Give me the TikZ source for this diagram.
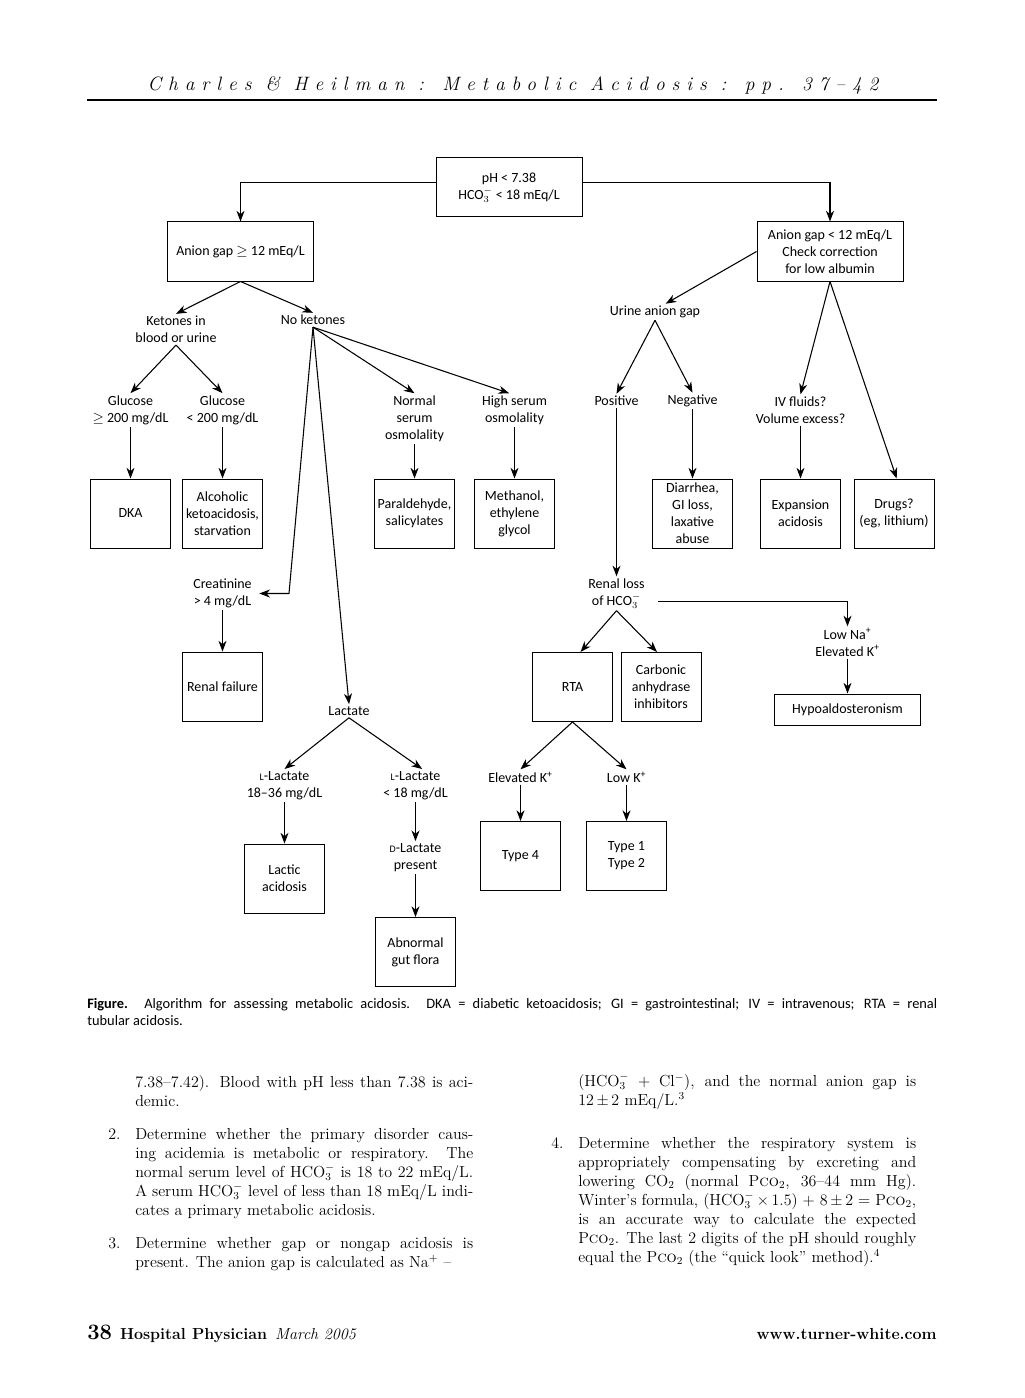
\documentclass[tikz,border=0pt]{standalone}
\usepackage{fontspec}
\usetikzlibrary{positioning,arrows.meta,calc}

\newfontfamily\gillfam{Carlito}
\newfontfamily\headfam[LetterSpace=36]{Latin Modern Roman}
\newcommand\diagfont{\gillfam\fontsize{10.5}{12.75}\selectfont}
\newcommand\capfont{\gillfam\fontsize{10.8}{12.75}\selectfont}
\newcommand\bodyfont{\fontsize{12}{14.25}\selectfont}
% bicarbonate, stacked sub/superscript
\newcommand\hco{HCO$_3^-$}
\newcommand\hcob{HCO$_3^-$}
\newcommand\smc[1]{{\fontsize{7.5}{8}\selectfont #1}}

\begin{document}
\begin{tikzpicture}[x=0.75pt, y=-0.75pt,
    box/.style={rectangle, draw, line width=0.75pt, align=center, font=\diagfont, minimum width=60pt, minimum height=51.75pt, inner sep=1pt},
    widebox/.style={box, minimum width=109.5pt, minimum height=44.25pt},
    lbl/.style={align=center, font=\diagfont, inner sep=1.5pt},
    arr/.style={-{Stealth[length=8pt,width=6pt,inset=2.5pt]}, line width=0.8pt},
    body/.style={anchor=base west, inner sep=0pt, text width=253.5pt, align=justify, font=\bodyfont},
    num/.style={anchor=base west, inner sep=0pt, font=\bodyfont}]

        \path[use as bounding box, fill=white] (0,0) rectangle (1024,1398);

        %-----Running head-----
        \node[anchor=base, inner sep=0pt, font=\headfam\itshape\fontsize{14.5}{16}\selectfont] (runhead) at (513,91) {Charles \& Heilman : Metabolic Acidosis : pp. 37–42};
        \coordinate (rulel) at (87,100);
        \coordinate (ruler) at (937,100);
        \draw[line width=1.5pt] (rulel) -- (ruler);

        %-----Top of the algorithm-----

        % pH box
        \node[widebox] (ph) at (509,187.5) {pH < 7.38\\ \hco{} < 18 mEq/L};

        % Anion gap boxes
        \node[widebox] (gaphi) at (240.5,251.5) {Anion gap $\geq$ 12 mEq/L};
        \node[widebox] (gaplo) at (830,251.5) {Anion gap < 12 mEq/L\\Check correction\\for low albumin};

        %-----Left branch: high anion gap-----
        \node[lbl] (ketones) at (176,329.5) {Ketones in\\blood or urine};
        \node[lbl] (noket) at (313,320) {No ketones};

        \node[lbl] (gluhi) at (130.5,410) {Glucose\\$\geq$ 200 mg/dL};
        \node[lbl] (glulo) at (222.5,410) {Glucose\\< 200 mg/dL};
        \node[box] (dka) at (130.5,513.5) {DKA};
        \node[box] (alco) at (222.5,513.5) {Alcoholic\\ketoacidosis,\\starvation};

        \node[lbl] (normosm) at (414.5,418.5) {Normal\\serum\\osmolality};
        \node[lbl] (highosm) at (514.5,410) {High serum\\osmolality};
        \node[box] (para) at (414.5,513.5) {Paraldehyde,\\salicylates};
        \node[box] (meth) at (514.5,513.5) {Methanol,\\ethylene\\glycol};

        \node[lbl] (creat) at (222.5,593.5) {Creatinine\\> 4 mg/dL};
        \node[box] (renalf) at (222.5,686.5) {Renal failure};
        \coordinate (crbend) at (289,593.5);

        % Lactate part
        \node[lbl] (lactate) at (349,711) {Lactate};
        \node[lbl] (llhi) at (284.5,785.5) {\smc{L}-Lactate\\18–36 mg/dL};
        \node[lbl] (lllo) at (415.5,785.5) {\smc{L}-Lactate\\< 18 mg/dL};
        \node[box] (lactic) at (284.5,878.5) {Lactic\\acidosis};
        \node[lbl] (dlac) at (415.5,857.5) {\smc{D}-Lactate\\present};
        \node[box] (gut) at (415.5,952) {Abnormal\\gut flora};

        %-----Right branch: normal anion gap-----
        \node[lbl] (urine) at (655,312) {Urine anion gap};
        \node[lbl] (pos) at (616.5,401) {Positive};
        \node[lbl] (neg) at (692.5,401) {Negative};
        \node[box] (diar) at (692.5,513.5) {Diarrhea,\\GI loss,\\laxative\\abuse};

        \node[lbl] (ivf) at (800.5,410) {IV fluids?\\Volume excess?};
        \node[box] (expan) at (800.5,513.5) {Expansion\\acidosis};
        \node[box] (drugs) at (894,513.5) {Drugs?\\(eg, lithium)};

        \node[lbl] (renal) at (616.5,593.5) {Renal loss\\of \hco};
        \node[box] (rta) at (572.5,687) {RTA};
        \node[box] (carb) at (661,687) {Carbonic\\anhydrase\\inhibitors};

        \node[lbl] (lowna) at (847.5,642.5) {Low Na\textsuperscript{+}\\Elevated K\textsuperscript{+}};
        \node[widebox, minimum height=23.25pt] (hypo) at (847.5,709.5) {Hypoaldosteronism};

        \node[lbl] (elevk) at (520.5,777) {Elevated K\textsuperscript{+}};
        \node[lbl] (lowk) at (626.5,777) {Low K\textsuperscript{+}};
        \node[box] (type4) at (520.5,856) {Type 4};
        \node[box] (type12) at (626.5,856) {Type 1\\Type 2};

        %-----Connectors-----
        \draw[arr] ([yshift=3.75pt]ph.west) -| (gaphi.north);
        \draw[arr] ([yshift=3.75pt]ph.east) -| (gaplo.north);

        \draw[arr] (gaphi.south) -- (ketones.north);
        \draw[arr] (gaphi.south) -- (noket.north);
        \draw[arr] (ketones.south) -- (gluhi.north);
        \draw[arr] (ketones.south) -- (glulo.north);
        \draw[arr] (gluhi) -- (dka);
        \draw[arr] (glulo) -- (alco);

        \draw[arr] (noket.south) -- (normosm.north);
        \draw[arr] (noket.south) -- ([xshift=-4pt]highosm.north);
        \draw[arr] (normosm) -- (para);
        \draw[arr] (highosm) -- (meth);
        \draw[arr] (noket.south) -- (crbend) -- ([xshift=4pt]creat.east);
        \draw[arr] (creat) -- (renalf);
        \draw[arr] (noket.south) -- (lactate.north);

        \draw[arr] (lactate.south) -- (llhi.north);
        \draw[arr] (lactate.south) -- ([xshift=5pt]lllo.north);
        \draw[arr] (llhi) -- (lactic);
        \draw[arr] (lllo) -- (dlac);
        \draw[arr] (dlac) -- (gut);

        \draw[arr] (gaplo.west) -- ([xshift=8pt]urine.north);
        \draw[arr] (urine.south) -- (pos.north);
        \draw[arr] (urine.south) -- (neg.north);
        \draw[arr] (neg) -- (diar);
        \draw[arr] (pos) -- (renal);

        \draw[arr] (gaplo.south) -- (ivf.north);
        \draw[arr] (gaplo.south) -- ([xshift=2pt]drugs.north);
        \draw[arr] (ivf) -- (expan);

        \draw[arr] ([xshift=8pt,yshift=-6pt]renal.east) -| (lowna.north);
        \draw[arr] (lowna) -- (hypo);
        \draw[arr] (renal.south) -- ([xshift=6pt]rta.north);
        \draw[arr] (renal.south) -- ([xshift=-3pt]carb.north);
        \draw[arr] (rta.south) -- (elevk.north);
        \draw[arr] (rta.south) -- (lowk.north);
        \draw[arr] (elevk) -- (type4);
        \draw[arr] (lowk) -- (type12);

        %-----Caption-----
        \node[anchor=north west, inner sep=0pt, text width=637.5pt, align=justify, font=\capfont] (caption) at (87,998) {\textbf{Figure.} Algorithm for assessing metabolic acidosis. DKA = diabetic ketoacidosis; GI = gastrointestinal; IV = intravenous; RTA = renal\linebreak tubular acidosis.};

        %-----Body text, left column-----
        \node[body] (para1) at (135,1087) {7.38--7.42). Blood with pH less than 7.38 is aci-\linebreak demic.};
        \node[num] (num2) at (108,1139) {2.};
        \node[body] (para2) at (135,1139) {Determine whether the primary disorder caus-\linebreak ing acidemia is metabolic or respiratory. The\linebreak normal serum level of \hcob{} is 18 to 22 mEq/L.\linebreak A serum \hcob{} level of less than 18 mEq/L indi-\linebreak cates a primary metabolic acidosis.};
        \node[num] (num3) at (108,1248) {3.};
        \node[body] (para3) at (135,1248) {\parfillskip=0pt Determine whether gap or nongap acidosis is\linebreak present. The anion gap is calculated as Na$^+$ --};

        %-----Body text, right column-----
        \node[body] (para3b) at (578,1086) {(\hcob{} + Cl$^-$), and the normal anion gap is\linebreak 12\,±\,2 mEq/L.\textsuperscript{3}};
        \node[num] (num4) at (551,1148) {4.};
        \node[body] (para4) at (578,1148) {Determine whether the respiratory system is\linebreak appropriately compensating by excreting and\linebreak lowering CO$_2$ (normal P\textsc{co}$_2$, 36--44 mm Hg).\linebreak Winter's formula, (\hcob{}\,×\,1.5) + 8\,±\,2 = P\textsc{co}$_2$,\linebreak is an accurate way to calculate the expected\linebreak P\textsc{co}$_2$. The last 2 digits of the pH should roughly\linebreak equal the P\textsc{co}$_2$ (the ``quick look'' method).\textsuperscript{4}};

        %-----Footer-----
        \node[anchor=base west, inner sep=0pt, font=\fontsize{12}{14}\selectfont] (footer) at (87,1339) {{\fontsize{16.5}{18}\selectfont\bfseries 38}\enspace\textbf{Hospital Physician}\enspace\textit{March 2005}};
        \node[anchor=base east, inner sep=0pt, font=\fontsize{12}{14}\selectfont\bfseries] (site) at (937,1339) {www.turner-white.com};

\end{tikzpicture}
\end{document}
